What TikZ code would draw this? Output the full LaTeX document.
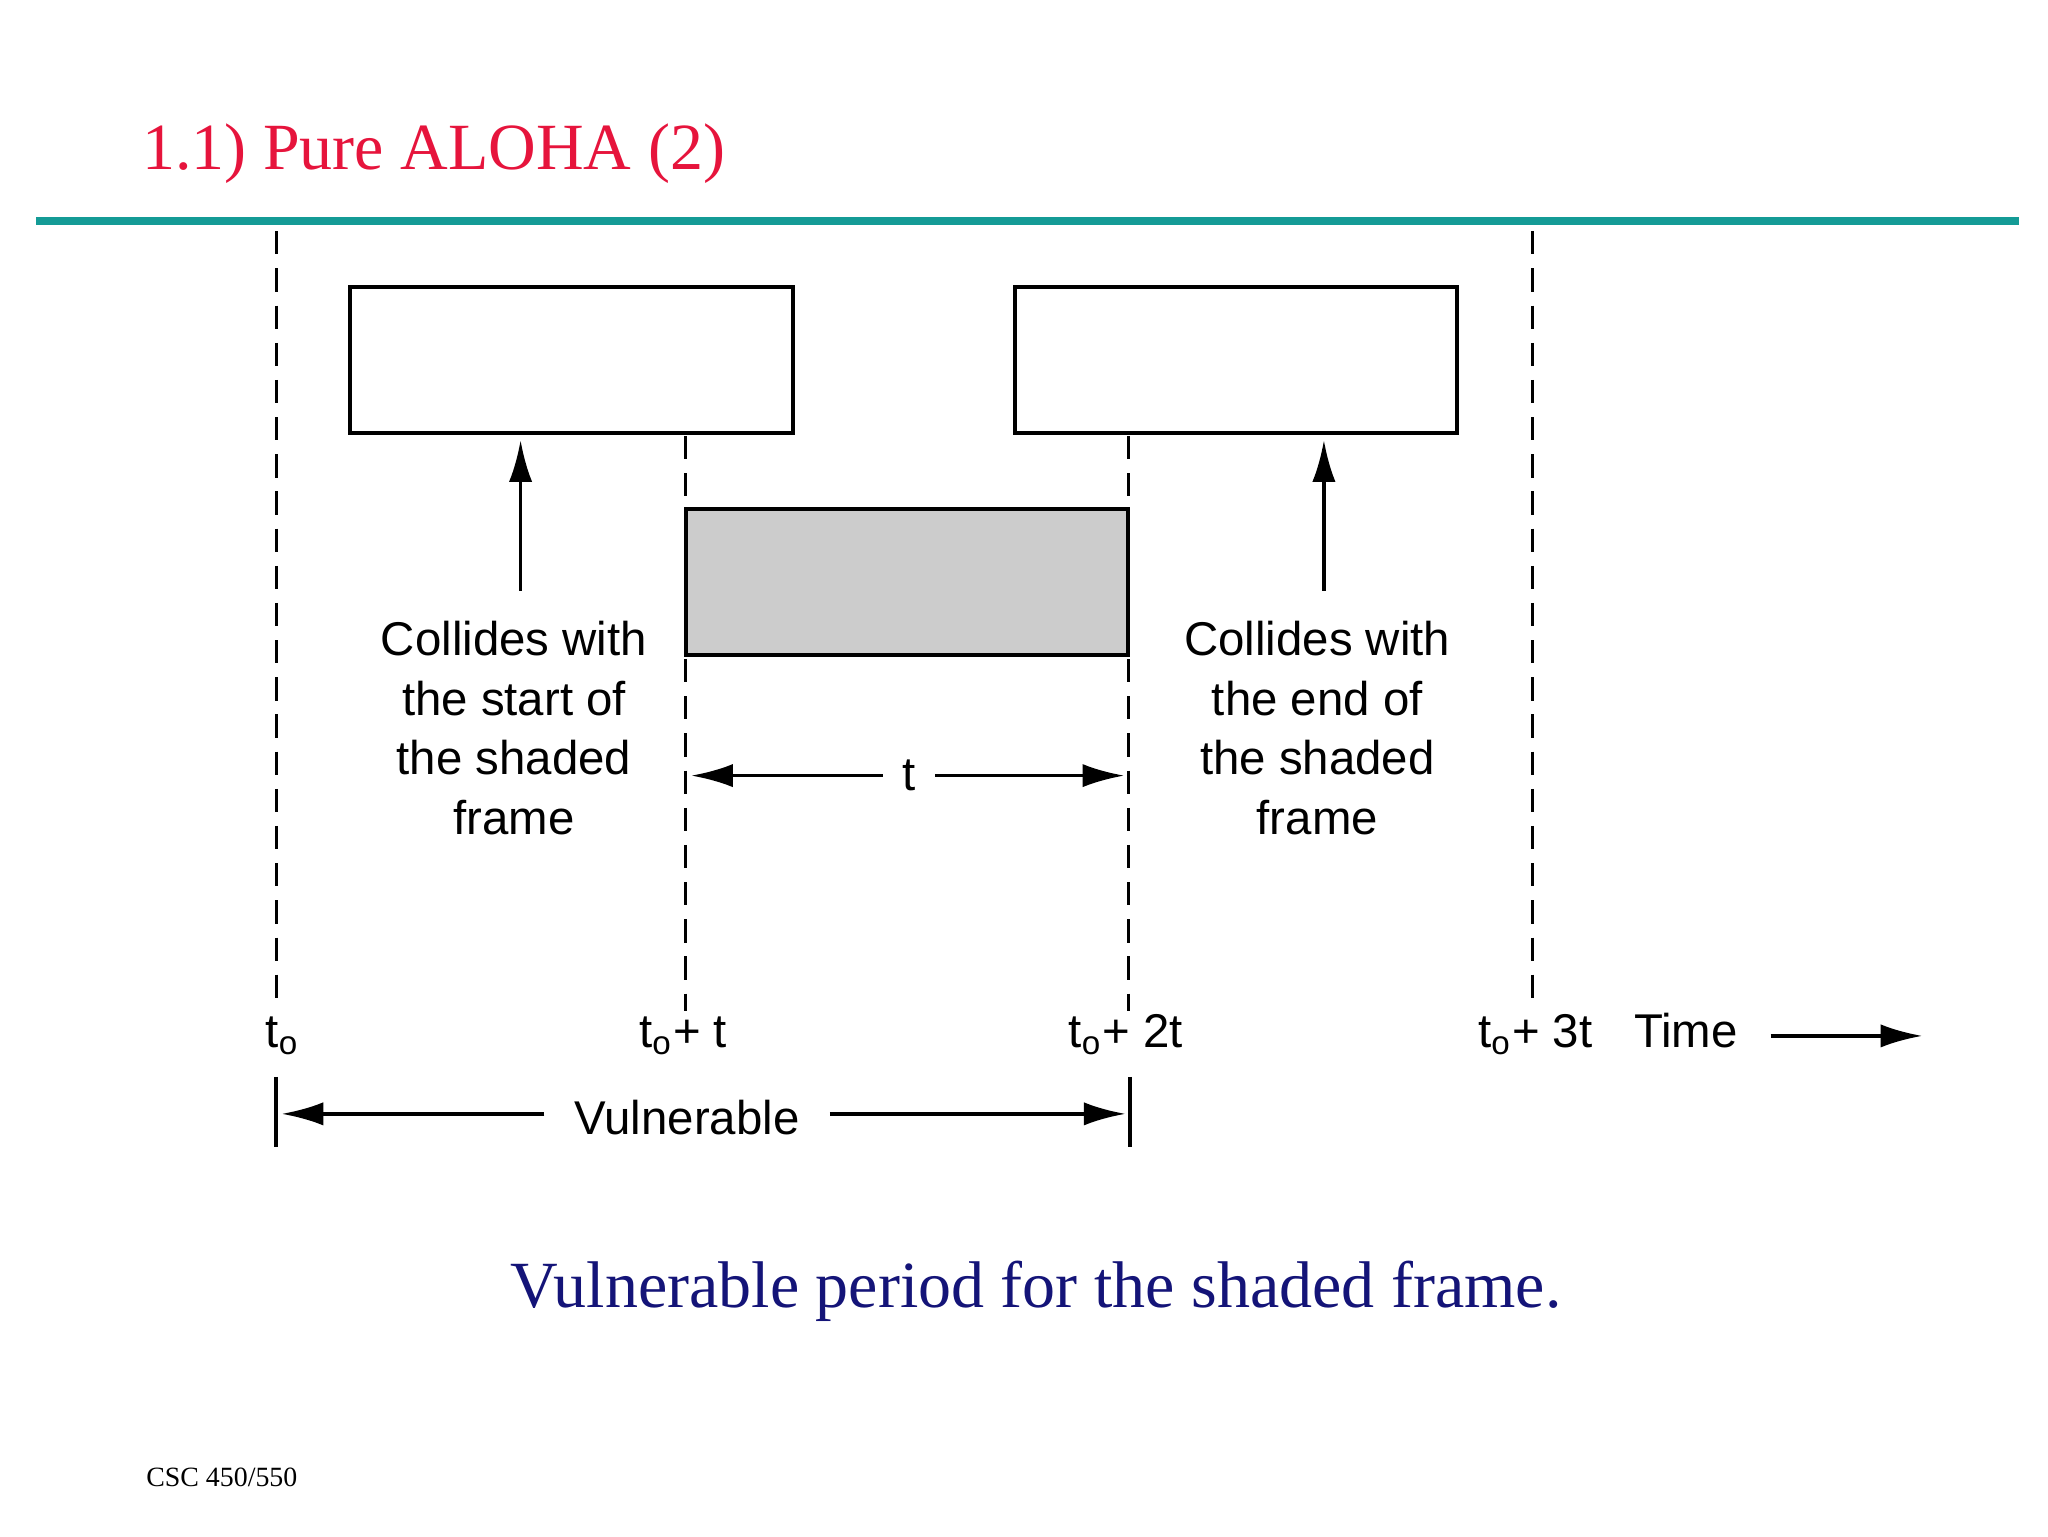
\documentclass[tikz,border=0pt]{standalone}
\usepackage{fontspec}
\setmainfont{Liberation Serif}
\setsansfont{Liberation Sans}
\usetikzlibrary{arrows.meta}
\definecolor{titlered}{RGB}{230,20,60}
\definecolor{teal2}{RGB}{20,155,150}
\definecolor{navy}{RGB}{20,20,120}
\begin{document}
\begin{tikzpicture}[x=0.01cm,y=-0.01cm,
  dashln/.style={line width=0.7pt,dash pattern=on 5pt off 3pt},
  frm/.style={draw,line width=0.9pt},
  arr/.style={line width=0.8pt,-{Latex[length=9pt,width=5pt]}},
  lab/.style={font=\sffamily\fontsize{10.2pt}{12.8pt}\selectfont,align=center}]
\useasboundingbox (0,0) rectangle (1550,1162.5);
\node[anchor=base west,text=titlered,font=\fontsize{14.2pt}{16pt}\selectfont,inner sep=0] (title) at (107,128) {1.1) Pure ALOHA (2)};
\fill[teal2] (27,164) rectangle (1528,170);
% dashed lines
\coordinate (d1t) at (209,175); \coordinate (d1b) at (209,757);
\coordinate (d2t) at (519,330); \coordinate (d2b) at (519,765);
\coordinate (d3t) at (854,330); \coordinate (d3b) at (854,765);
\coordinate (d4t) at (1160,175); \coordinate (d4b) at (1160,755);
\draw[dashln] (d1t)--(d1b); \draw[dashln] (d2t)--(d2b); \draw[dashln] (d3t)--(d3b); \draw[dashln] (d4t)--(d4b);
% frames
\draw[frm] (265,217) rectangle (600,328);
\draw[frm] (768,217) rectangle (1103,328);
\draw[frm,fill={rgb,255:red,204;green,204;blue,204}] (519,385) rectangle (854,496);
% collides
\coordinate (a1) at (394,447); \coordinate (a1e) at (394,333);
\coordinate (a2) at (1002,447); \coordinate (a2e) at (1002,333);
\draw[arr] (a1)--(a1e); \draw[arr] (a2)--(a2e);
\node[lab,anchor=north] (c1) at (389,458) {Collides with\\the start of\\the shaded\\frame};
\node[lab,anchor=north] (c2) at (997,458) {Collides with\\the end of\\the shaded\\frame};
% t arrow
\node[lab] (t) at (688,587) {t};
\coordinate (tl) at (523,587); \coordinate (tr) at (851,587);
\draw[arr] (668,587) -- (tl);
\draw[arr] (708,587) -- (tr);
% time labels
\node[lab,anchor=base] (l0) at (214,793) {t\textsubscript{o}};
\node[lab,anchor=base] (l1) at (517,793) {t\textsubscript{o}+ t};
\node[lab,anchor=base] (l2) at (852,793) {t\textsubscript{o}+ 2t};
\node[lab,anchor=base] (l3) at (1162,793) {t\textsubscript{o}+ 3t};
\node[lab,anchor=base] (time) at (1276,793) {Time};
\coordinate (ts) at (1340,784); \coordinate (te) at (1455,784);
\draw[arr] (ts) -- (te);
% vulnerable
\draw[line width=0.8pt] (209,815)--(209,868);
\draw[line width=0.8pt] (855,815)--(855,868);
\node[lab] (v) at (520,846) {Vulnerable};
\coordinate (vl) at (213,843); \coordinate (vr) at (852,843);
\draw[arr] (412,843)--(vl);
\draw[arr] (628,843)--(vr);
\node[text=navy,font=\fontsize{14.2pt}{16pt}\selectfont] (cap) at (784,977) {Vulnerable period for the shaded frame.};
\node[anchor=base west,font=\fontsize{6pt}{7pt}\selectfont,inner sep=0] (foot) at (110,1125) {CSC 450/550};
\end{tikzpicture}
\end{document}
